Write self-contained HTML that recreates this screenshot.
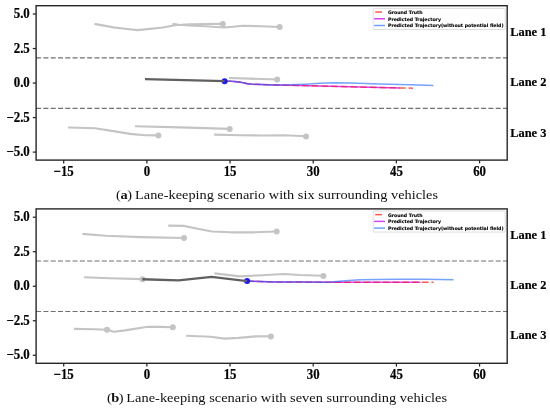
<!DOCTYPE html>
<html><head><meta charset="utf-8"><title>Lane-keeping scenarios</title>
<style>
html,body{margin:0;padding:0;background:#fff;}
#fig{position:relative;width:550px;height:408px;overflow:hidden;background:#fff;}
.cap{position:absolute;width:550px;text-align:center;font-family:'Liberation Serif',serif;font-size:13.4px;transform-origin:275px 0;color:#111;white-space:nowrap;line-height:16px;}
</style></head><body>
<div id="fig">
<svg width="550" height="408" viewBox="0 0 550 408" style="position:absolute;left:0;top:0">
<polyline points="94.50,23.90 113.40,27.40 125.00,28.80 137.50,30.10 150.00,28.90 163.00,27.50 174.80,25.20 189.00,24.30 205.00,24.00 222.60,23.90" fill="none" stroke="#c4c4c4" stroke-width="2.15" stroke-linejoin="round" stroke-linecap="butt" />
<circle cx="222.80" cy="24.00" r="3.0" fill="#c4c4c4"/>
<polyline points="172.50,23.90 178.90,24.70 189.00,25.40 205.00,26.30 223.80,27.50 233.00,26.80 242.70,25.80 261.70,26.30 279.40,27.00" fill="none" stroke="#c4c4c4" stroke-width="2.15" stroke-linejoin="round" stroke-linecap="butt" />
<circle cx="279.60" cy="27.10" r="3.0" fill="#c4c4c4"/>
<polyline points="229.00,78.00 250.00,78.60 277.00,79.50" fill="none" stroke="#c4c4c4" stroke-width="2.15" stroke-linejoin="round" stroke-linecap="butt" />
<circle cx="277.20" cy="79.60" r="3.0" fill="#c4c4c4"/>
<polyline points="68.00,127.50 95.00,128.30 115.00,131.40 130.00,133.90 145.00,135.20 158.20,135.40" fill="none" stroke="#c4c4c4" stroke-width="2.15" stroke-linejoin="round" stroke-linecap="butt" />
<circle cx="158.40" cy="135.50" r="3.0" fill="#c4c4c4"/>
<polyline points="135.00,126.20 180.00,127.40 229.50,128.90" fill="none" stroke="#c4c4c4" stroke-width="2.15" stroke-linejoin="round" stroke-linecap="butt" />
<circle cx="229.70" cy="129.00" r="3.0" fill="#c4c4c4"/>
<polyline points="214.20,134.60 240.00,135.30 262.00,135.50 284.00,135.30 305.80,136.30" fill="none" stroke="#c4c4c4" stroke-width="2.15" stroke-linejoin="round" stroke-linecap="butt" />
<circle cx="306.00" cy="136.40" r="3.0" fill="#c4c4c4"/>
<line x1="36.1" x2="507.2" y1="57.78" y2="57.78" stroke="#707070" stroke-width="1.2" stroke-dasharray="5.0,2.295"/>
<line x1="36.1" x2="507.2" y1="108.32" y2="108.32" stroke="#707070" stroke-width="1.2" stroke-dasharray="5.0,2.295"/>
<polyline points="224.60,81.30 231.00,81.30 237.00,81.70 242.00,82.40 247.50,83.70 253.00,84.30 262.00,84.60 275.00,84.90 300.00,85.50 330.00,86.20 370.00,87.30 400.00,87.90" fill="none" stroke="#d746fa" stroke-width="1.5" stroke-linejoin="round" stroke-linecap="butt" />
<clipPath id="c5a"><rect x="0" y="5.7" width="400" height="154.4"/></clipPath>
<clipPath id="c5b"><rect x="400" y="5.7" width="150" height="154.4"/></clipPath>
<polyline points="224.60,81.30 231.00,81.30 237.00,81.70 242.00,82.40 247.50,83.70 253.00,84.30 262.00,84.60 275.00,84.90 300.00,85.50 330.00,86.20 370.00,87.30 400.00,87.90 413.00,88.20" fill="none" stroke="#ff0000" stroke-width="1.5" stroke-linejoin="round" stroke-linecap="butt" stroke-dasharray="6.8,2.9" stroke-opacity="0.5" clip-path="url(#c5a)"/>
<polyline points="224.60,81.30 231.00,81.30 237.00,81.70 242.00,82.40 247.50,83.70 253.00,84.30 262.00,84.60 275.00,84.90 300.00,85.50 330.00,86.20 370.00,87.30 400.00,87.90 413.00,88.20" fill="none" stroke="#ff5a50" stroke-width="1.5" stroke-linejoin="round" stroke-linecap="butt" stroke-dasharray="6.8,2.9" clip-path="url(#c5b)"/>
<polyline points="224.60,81.30 231.00,81.30 237.00,81.70 242.00,82.40 247.50,83.70 253.00,84.30 262.00,84.60 275.00,84.90 290.00,84.80 305.00,84.20 320.00,83.30 335.00,82.80 350.00,83.00 380.00,83.90 410.00,84.80 433.40,85.50" fill="none" stroke="#1e64ff" stroke-width="1.5" stroke-linejoin="round" stroke-linecap="butt" stroke-opacity="0.6"/>
<circle cx="224.60" cy="81.30" r="3.0" fill="#1a1af0"/>
<polyline points="145.00,79.10 185.00,80.10 224.60,81.10" fill="none" stroke="#606060" stroke-width="2.4" stroke-linejoin="round" stroke-linecap="butt" />
<rect x="36.1" y="5.7" width="471.09999999999997" height="154.4" fill="none" stroke="#262626" stroke-width="1.4"/>
<line x1="32.800000000000004" x2="36.1" y1="14.00" y2="14.00" stroke="#262626" stroke-width="1.25"/>
<text transform="translate(29.80,18.10) scale(0.94,1)" text-anchor="end" font-family="Liberation Serif, serif" font-weight="bold" font-size="13.7px" fill="#000" stroke="#000" stroke-width="0.2">5.0</text>
<line x1="32.800000000000004" x2="36.1" y1="48.52" y2="48.52" stroke="#262626" stroke-width="1.25"/>
<text transform="translate(29.80,52.62) scale(0.94,1)" text-anchor="end" font-family="Liberation Serif, serif" font-weight="bold" font-size="13.7px" fill="#000" stroke="#000" stroke-width="0.2">2.5</text>
<line x1="32.800000000000004" x2="36.1" y1="83.05" y2="83.05" stroke="#262626" stroke-width="1.25"/>
<text transform="translate(29.80,87.15) scale(0.94,1)" text-anchor="end" font-family="Liberation Serif, serif" font-weight="bold" font-size="13.7px" fill="#000" stroke="#000" stroke-width="0.2">0.0</text>
<line x1="32.800000000000004" x2="36.1" y1="117.57" y2="117.57" stroke="#262626" stroke-width="1.25"/>
<text transform="translate(29.80,121.67) scale(0.94,1)" text-anchor="end" font-family="Liberation Serif, serif" font-weight="bold" font-size="13.7px" fill="#000" stroke="#000" stroke-width="0.2">−2.5</text>
<line x1="32.800000000000004" x2="36.1" y1="152.10" y2="152.10" stroke="#262626" stroke-width="1.25"/>
<text transform="translate(29.80,156.20) scale(0.94,1)" text-anchor="end" font-family="Liberation Serif, serif" font-weight="bold" font-size="13.7px" fill="#000" stroke="#000" stroke-width="0.2">−5.0</text>
<line x1="63.70" x2="63.70" y1="160.1" y2="163.4" stroke="#262626" stroke-width="1.25"/>
<text transform="translate(63.70,175.85) scale(0.915,1)" text-anchor="middle" font-family="Liberation Serif, serif" font-weight="bold" font-size="14.0px" fill="#000" stroke="#000" stroke-width="0.2">−15</text>
<line x1="146.87" x2="146.87" y1="160.1" y2="163.4" stroke="#262626" stroke-width="1.25"/>
<text transform="translate(146.87,175.85) scale(0.915,1)" text-anchor="middle" font-family="Liberation Serif, serif" font-weight="bold" font-size="14.0px" fill="#000" stroke="#000" stroke-width="0.2">0</text>
<line x1="230.05" x2="230.05" y1="160.1" y2="163.4" stroke="#262626" stroke-width="1.25"/>
<text transform="translate(230.05,175.85) scale(0.915,1)" text-anchor="middle" font-family="Liberation Serif, serif" font-weight="bold" font-size="14.0px" fill="#000" stroke="#000" stroke-width="0.2">15</text>
<line x1="313.22" x2="313.22" y1="160.1" y2="163.4" stroke="#262626" stroke-width="1.25"/>
<text transform="translate(313.22,175.85) scale(0.915,1)" text-anchor="middle" font-family="Liberation Serif, serif" font-weight="bold" font-size="14.0px" fill="#000" stroke="#000" stroke-width="0.2">30</text>
<line x1="396.39" x2="396.39" y1="160.1" y2="163.4" stroke="#262626" stroke-width="1.25"/>
<text transform="translate(396.39,175.85) scale(0.915,1)" text-anchor="middle" font-family="Liberation Serif, serif" font-weight="bold" font-size="14.0px" fill="#000" stroke="#000" stroke-width="0.2">45</text>
<line x1="479.57" x2="479.57" y1="160.1" y2="163.4" stroke="#262626" stroke-width="1.25"/>
<text transform="translate(479.57,175.85) scale(0.915,1)" text-anchor="middle" font-family="Liberation Serif, serif" font-weight="bold" font-size="14.0px" fill="#000" stroke="#000" stroke-width="0.2">60</text>
<text transform="translate(510.20,35.60) scale(0.94,1)" text-anchor="start" font-family="Liberation Serif, serif" font-weight="bold" font-size="13.2px" fill="#000" stroke="#000" stroke-width="0.2">Lane 1</text>
<text transform="translate(510.20,85.90) scale(0.94,1)" text-anchor="start" font-family="Liberation Serif, serif" font-weight="bold" font-size="13.2px" fill="#000" stroke="#000" stroke-width="0.2">Lane 2</text>
<text transform="translate(510.20,136.50) scale(0.94,1)" text-anchor="start" font-family="Liberation Serif, serif" font-weight="bold" font-size="13.2px" fill="#000" stroke="#000" stroke-width="0.2">Lane 3</text>
<rect x="373.2" y="8.4" width="132.0" height="21.1" rx="1" fill="#fff" fill-opacity="0.8" stroke="#d0d0d0" stroke-width="0.7"/>
<line x1="375.2" x2="382.1" y1="12.05" y2="12.05" stroke="#ff5a50" stroke-width="1.5"/>
<g transform="translate(388,13.90) scale(0.25)"><text x="0" y="0" font-family="DejaVu Sans, Liberation Sans, sans-serif" font-weight="bold" font-size="18.55px" fill="#000" stroke="#000" stroke-width="0.5">Ground Truth</text></g>
<line x1="374.1" x2="385.1" y1="18.77" y2="18.77" stroke="#d746fa" stroke-width="1.5"/>
<g transform="translate(388,20.62) scale(0.25)"><text x="0" y="0" font-family="DejaVu Sans, Liberation Sans, sans-serif" font-weight="bold" font-size="18.55px" fill="#000" stroke="#000" stroke-width="0.5">Predicted Trajectory</text></g>
<line x1="374.1" x2="385.1" y1="25.49" y2="25.49" stroke="#6ea0ff" stroke-width="1.5"/>
<g transform="translate(388,27.34) scale(0.25)"><text x="0" y="0" font-family="DejaVu Sans, Liberation Sans, sans-serif" font-weight="bold" font-size="18.55px" fill="#000" stroke="#000" stroke-width="0.5">Predicted Trajectory(without potential field)</text></g>
<polyline points="82.50,233.90 105.50,235.70 140.90,237.10 183.80,238.00" fill="none" stroke="#c4c4c4" stroke-width="2.15" stroke-linejoin="round" stroke-linecap="butt" />
<circle cx="184.00" cy="238.10" r="3.0" fill="#c4c4c4"/>
<polyline points="168.30,225.60 183.60,225.90 197.80,228.70 212.00,231.50 230.90,232.30 254.60,232.30 268.70,231.80 276.50,231.50" fill="none" stroke="#c4c4c4" stroke-width="2.15" stroke-linejoin="round" stroke-linecap="butt" />
<circle cx="276.70" cy="231.60" r="3.0" fill="#c4c4c4"/>
<polyline points="84.00,277.30 110.00,278.30 142.30,279.10" fill="none" stroke="#c4c4c4" stroke-width="2.15" stroke-linejoin="round" stroke-linecap="butt" />
<circle cx="142.50" cy="279.20" r="3.0" fill="#c4c4c4"/>
<polyline points="214.40,273.40 240.00,276.40 262.00,275.20 284.00,274.00 300.00,275.00 323.20,275.80" fill="none" stroke="#c4c4c4" stroke-width="2.15" stroke-linejoin="round" stroke-linecap="butt" />
<circle cx="323.40" cy="275.90" r="3.0" fill="#c4c4c4"/>
<polyline points="74.00,328.90 95.00,329.20 106.80,329.70" fill="none" stroke="#c4c4c4" stroke-width="2.15" stroke-linejoin="round" stroke-linecap="butt" />
<circle cx="107.00" cy="329.80" r="3.0" fill="#c4c4c4"/>
<polyline points="106.80,329.70 114.20,331.80 125.00,330.40 147.70,326.70 160.00,326.90 172.60,327.20" fill="none" stroke="#c4c4c4" stroke-width="2.15" stroke-linejoin="round" stroke-linecap="butt" />
<circle cx="172.80" cy="327.30" r="3.0" fill="#c4c4c4"/>
<polyline points="186.10,335.80 210.50,336.80 224.60,338.60 238.80,337.90 255.40,336.40 270.70,336.30" fill="none" stroke="#c4c4c4" stroke-width="2.15" stroke-linejoin="round" stroke-linecap="butt" />
<circle cx="270.90" cy="336.40" r="3.0" fill="#c4c4c4"/>
<line x1="36.1" x2="507.2" y1="260.98" y2="260.98" stroke="#707070" stroke-width="1.2" stroke-dasharray="5.0,2.295"/>
<line x1="36.1" x2="507.2" y1="311.52" y2="311.52" stroke="#707070" stroke-width="1.2" stroke-dasharray="5.0,2.295"/>
<polyline points="247.10,281.10 260.00,281.60 276.00,281.95 300.00,282.10 335.00,282.30 380.00,282.30 420.50,282.30" fill="none" stroke="#d746fa" stroke-width="1.5" stroke-linejoin="round" stroke-linecap="butt" />
<clipPath id="c208a"><rect x="0" y="208.9" width="420.5" height="154.4"/></clipPath>
<clipPath id="c208b"><rect x="420.5" y="208.9" width="129.5" height="154.4"/></clipPath>
<polyline points="247.10,281.10 260.00,281.60 276.00,281.95 300.00,282.10 335.00,282.30 380.00,282.30 420.00,282.30 433.50,282.30" fill="none" stroke="#ff0000" stroke-width="1.5" stroke-linejoin="round" stroke-linecap="butt" stroke-dasharray="6.8,2.9" stroke-opacity="0.5" clip-path="url(#c208a)"/>
<polyline points="247.10,281.10 260.00,281.60 276.00,281.95 300.00,282.10 335.00,282.30 380.00,282.30 420.00,282.30 433.50,282.30" fill="none" stroke="#ff5a50" stroke-width="1.5" stroke-linejoin="round" stroke-linecap="butt" stroke-dasharray="6.8,2.9" clip-path="url(#c208b)"/>
<polyline points="247.10,281.10 260.00,281.60 276.00,281.95 300.00,282.10 320.00,282.20 331.00,282.00 345.00,280.70 360.00,279.80 377.00,279.40 400.00,279.20 424.00,279.30 453.60,279.80" fill="none" stroke="#1e64ff" stroke-width="1.5" stroke-linejoin="round" stroke-linecap="butt" stroke-opacity="0.6"/>
<circle cx="247.10" cy="281.10" r="3.0" fill="#1a1af0"/>
<polyline points="142.30,279.20 178.50,280.40 211.60,276.90 247.10,281.10" fill="none" stroke="#606060" stroke-width="2.4" stroke-linejoin="round" stroke-linecap="butt" />
<rect x="36.1" y="208.9" width="471.09999999999997" height="154.4" fill="none" stroke="#262626" stroke-width="1.4"/>
<line x1="32.800000000000004" x2="36.1" y1="217.20" y2="217.20" stroke="#262626" stroke-width="1.25"/>
<text transform="translate(29.80,221.30) scale(0.94,1)" text-anchor="end" font-family="Liberation Serif, serif" font-weight="bold" font-size="13.7px" fill="#000" stroke="#000" stroke-width="0.2">5.0</text>
<line x1="32.800000000000004" x2="36.1" y1="251.72" y2="251.72" stroke="#262626" stroke-width="1.25"/>
<text transform="translate(29.80,255.82) scale(0.94,1)" text-anchor="end" font-family="Liberation Serif, serif" font-weight="bold" font-size="13.7px" fill="#000" stroke="#000" stroke-width="0.2">2.5</text>
<line x1="32.800000000000004" x2="36.1" y1="286.25" y2="286.25" stroke="#262626" stroke-width="1.25"/>
<text transform="translate(29.80,290.35) scale(0.94,1)" text-anchor="end" font-family="Liberation Serif, serif" font-weight="bold" font-size="13.7px" fill="#000" stroke="#000" stroke-width="0.2">0.0</text>
<line x1="32.800000000000004" x2="36.1" y1="320.77" y2="320.77" stroke="#262626" stroke-width="1.25"/>
<text transform="translate(29.80,324.88) scale(0.94,1)" text-anchor="end" font-family="Liberation Serif, serif" font-weight="bold" font-size="13.7px" fill="#000" stroke="#000" stroke-width="0.2">−2.5</text>
<line x1="32.800000000000004" x2="36.1" y1="355.30" y2="355.30" stroke="#262626" stroke-width="1.25"/>
<text transform="translate(29.80,359.40) scale(0.94,1)" text-anchor="end" font-family="Liberation Serif, serif" font-weight="bold" font-size="13.7px" fill="#000" stroke="#000" stroke-width="0.2">−5.0</text>
<line x1="63.70" x2="63.70" y1="363.3" y2="366.6" stroke="#262626" stroke-width="1.25"/>
<text transform="translate(63.70,379.05) scale(0.915,1)" text-anchor="middle" font-family="Liberation Serif, serif" font-weight="bold" font-size="14.0px" fill="#000" stroke="#000" stroke-width="0.2">−15</text>
<line x1="146.87" x2="146.87" y1="363.3" y2="366.6" stroke="#262626" stroke-width="1.25"/>
<text transform="translate(146.87,379.05) scale(0.915,1)" text-anchor="middle" font-family="Liberation Serif, serif" font-weight="bold" font-size="14.0px" fill="#000" stroke="#000" stroke-width="0.2">0</text>
<line x1="230.05" x2="230.05" y1="363.3" y2="366.6" stroke="#262626" stroke-width="1.25"/>
<text transform="translate(230.05,379.05) scale(0.915,1)" text-anchor="middle" font-family="Liberation Serif, serif" font-weight="bold" font-size="14.0px" fill="#000" stroke="#000" stroke-width="0.2">15</text>
<line x1="313.22" x2="313.22" y1="363.3" y2="366.6" stroke="#262626" stroke-width="1.25"/>
<text transform="translate(313.22,379.05) scale(0.915,1)" text-anchor="middle" font-family="Liberation Serif, serif" font-weight="bold" font-size="14.0px" fill="#000" stroke="#000" stroke-width="0.2">30</text>
<line x1="396.39" x2="396.39" y1="363.3" y2="366.6" stroke="#262626" stroke-width="1.25"/>
<text transform="translate(396.39,379.05) scale(0.915,1)" text-anchor="middle" font-family="Liberation Serif, serif" font-weight="bold" font-size="14.0px" fill="#000" stroke="#000" stroke-width="0.2">45</text>
<line x1="479.57" x2="479.57" y1="363.3" y2="366.6" stroke="#262626" stroke-width="1.25"/>
<text transform="translate(479.57,379.05) scale(0.915,1)" text-anchor="middle" font-family="Liberation Serif, serif" font-weight="bold" font-size="14.0px" fill="#000" stroke="#000" stroke-width="0.2">60</text>
<text transform="translate(510.20,238.50) scale(0.94,1)" text-anchor="start" font-family="Liberation Serif, serif" font-weight="bold" font-size="13.2px" fill="#000" stroke="#000" stroke-width="0.2">Lane 1</text>
<text transform="translate(510.20,288.80) scale(0.94,1)" text-anchor="start" font-family="Liberation Serif, serif" font-weight="bold" font-size="13.2px" fill="#000" stroke="#000" stroke-width="0.2">Lane 2</text>
<text transform="translate(510.20,339.40) scale(0.94,1)" text-anchor="start" font-family="Liberation Serif, serif" font-weight="bold" font-size="13.2px" fill="#000" stroke="#000" stroke-width="0.2">Lane 3</text>
<rect x="373.2" y="211.0" width="132.0" height="21.100000000000023" rx="1" fill="#fff" fill-opacity="0.8" stroke="#d0d0d0" stroke-width="0.7"/>
<line x1="375.2" x2="382.1" y1="214.65" y2="214.65" stroke="#ff5a50" stroke-width="1.5"/>
<g transform="translate(388,216.50) scale(0.25)"><text x="0" y="0" font-family="DejaVu Sans, Liberation Sans, sans-serif" font-weight="bold" font-size="18.55px" fill="#000" stroke="#000" stroke-width="0.5">Ground Truth</text></g>
<line x1="374.1" x2="385.1" y1="221.37" y2="221.37" stroke="#d746fa" stroke-width="1.5"/>
<g transform="translate(388,223.22) scale(0.25)"><text x="0" y="0" font-family="DejaVu Sans, Liberation Sans, sans-serif" font-weight="bold" font-size="18.55px" fill="#000" stroke="#000" stroke-width="0.5">Predicted Trajectory</text></g>
<line x1="374.1" x2="385.1" y1="228.09" y2="228.09" stroke="#6ea0ff" stroke-width="1.5"/>
<g transform="translate(388,229.94) scale(0.25)"><text x="0" y="0" font-family="DejaVu Sans, Liberation Sans, sans-serif" font-weight="bold" font-size="18.55px" fill="#000" stroke="#000" stroke-width="0.5">Predicted Trajectory(without potential field)</text></g>
</svg>
<div class="cap" id="cap1" style="top:186.8px;left:1.5px;transform:scaleX(1.0703)"><span style="letter-spacing:-0.3px">(<b>a</b>) </span>Lane-keeping scenario with six surrounding vehicles</div>
<div class="cap" id="cap2" style="top:390px;left:2px;transform:scaleX(1.077)"><span style="letter-spacing:-0.45px">(<b>b</b>) </span>Lane-keeping scenario with seven surrounding vehicles</div>
</div>
</body></html>
